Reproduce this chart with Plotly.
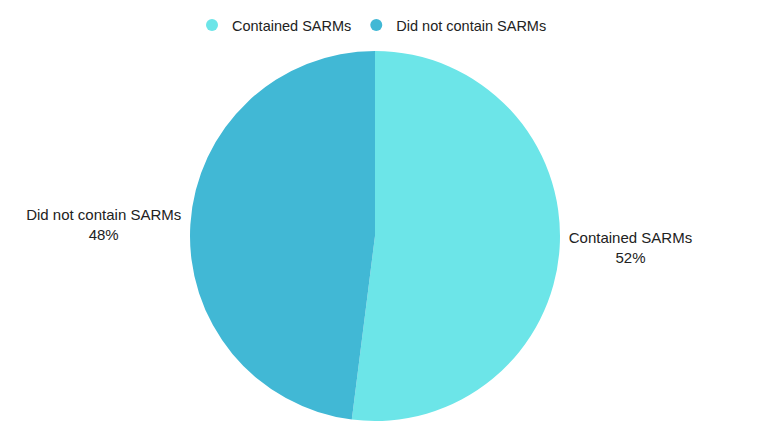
import plotly.graph_objects as go

labels = ["Contained SARMs", "Did not contain SARMs"]
values = [52, 48]
colors = ["#6ce5e8", "#41b8d5"]

W, H = 768, 432

fig = go.Figure()

fig.add_trace(
    go.Pie(labels=labels,
           values=values,
           sort=False,
           direction="clockwise",
           rotation=0,
           marker=dict(colors=colors),
           textposition="outside",
           texttemplate="%{label}<br>%{percent:.0%}",
           textfont=dict(size=15, color="#222222"),
           showlegend=False,
           domain=dict(x=[(367 - 185) / W, (367 + 185) / W],
                       y=[1 - 413 / H, 1 - 43 / H]))
)

# legend entries with round markers
for name, col in zip(labels, colors):
    fig.add_trace(
        go.Scatter(x=[None], y=[None],
                   mode="markers",
                   marker=dict(size=15, color=col, symbol="circle"),
                   name=name)
    )

fig.update_layout(
    width=W, height=H,
    margin=dict(l=0, r=0, t=0, b=0, autoexpand=False),
    font=dict(family="Liberation Sans", size=14, color="#222222"),
    paper_bgcolor="white",
    plot_bgcolor="white",
    xaxis=dict(visible=False),
    yaxis=dict(visible=False),
    legend=dict(orientation="h", x=364 / W, xanchor="center",
                y=1 - 17 / H, yanchor="middle",
                font=dict(size=14.5),
                itemsizing="constant"),
)

fig.write_html("out.html")
